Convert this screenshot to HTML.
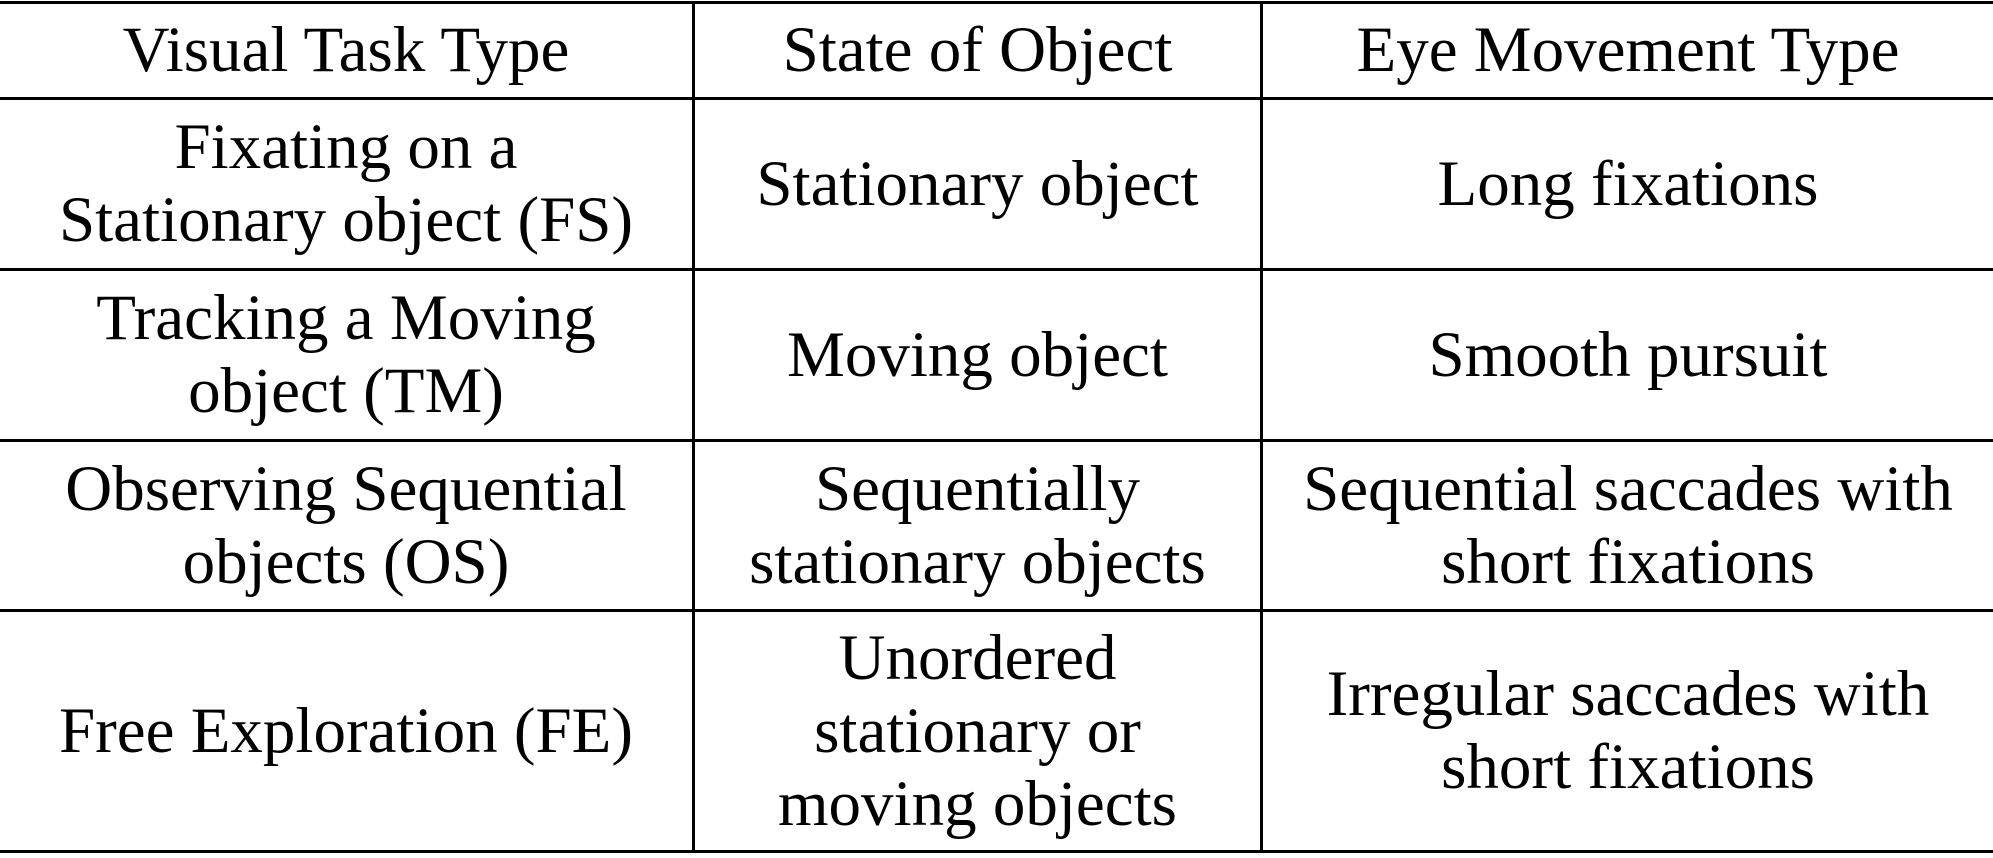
<!DOCTYPE html>
<html><head><meta charset="utf-8"><style>
body{margin:0;width:1993px;height:858px;background:#fff;overflow:hidden;position:relative;font-family:"Liberation Serif",serif;font-size:65px;color:#000}
.h{position:absolute;left:0;width:1993px;height:3px;background:#000}
.v{position:absolute;width:3px;background:#000}
.c{position:absolute;display:flex;align-items:center;justify-content:center;text-align:center;line-height:73px;white-space:nowrap}
</style></head><body>
<div class="h" style="top:1px"></div>
<div class="h" style="top:97px"></div>
<div class="h" style="top:268px"></div>
<div class="h" style="top:439px"></div>
<div class="h" style="top:609px"></div>
<div class="h" style="top:850px"></div>
<div class="v" style="left:692px;top:1px;height:852px"></div>
<div class="v" style="left:1260px;top:1px;height:852px"></div>

<div class="c" style="left:0;width:692px;top:2px;height:96px">Visual Task Type</div>
<div class="c" style="left:695px;width:565px;top:2px;height:96px">State of Object</div>
<div class="c" style="left:1263px;width:730px;top:2px;height:96px">Eye Movement Type</div>

<div class="c" style="left:0;width:692px;top:100px;height:168px">Fixating on a<br>Stationary object (FS)</div>
<div class="c" style="left:695px;width:565px;top:100px;height:168px">Stationary object</div>
<div class="c" style="left:1263px;width:730px;top:100px;height:168px">Long fixations</div>

<div class="c" style="left:0;width:692px;top:271px;height:168px">Tracking a Moving<br>object (TM)</div>
<div class="c" style="left:695px;width:565px;top:271px;height:168px">Moving object</div>
<div class="c" style="left:1263px;width:730px;top:271px;height:168px">Smooth pursuit</div>

<div class="c" style="left:0;width:692px;top:442px;height:167px">Observing Sequential<br>objects (OS)</div>
<div class="c" style="left:695px;width:565px;top:442px;height:167px">Sequentially<br>stationary objects</div>
<div class="c" style="left:1263px;width:730px;top:442px;height:167px">Sequential saccades with<br>short fixations</div>

<div class="c" style="left:0;width:692px;top:612px;height:238px">Free Exploration (FE)</div>
<div class="c" style="left:695px;width:565px;top:612px;height:238px">Unordered<br>stationary or<br>moving objects</div>
<div class="c" style="left:1263px;width:730px;top:612px;height:238px">Irregular saccades with<br>short fixations</div>
</body></html>
